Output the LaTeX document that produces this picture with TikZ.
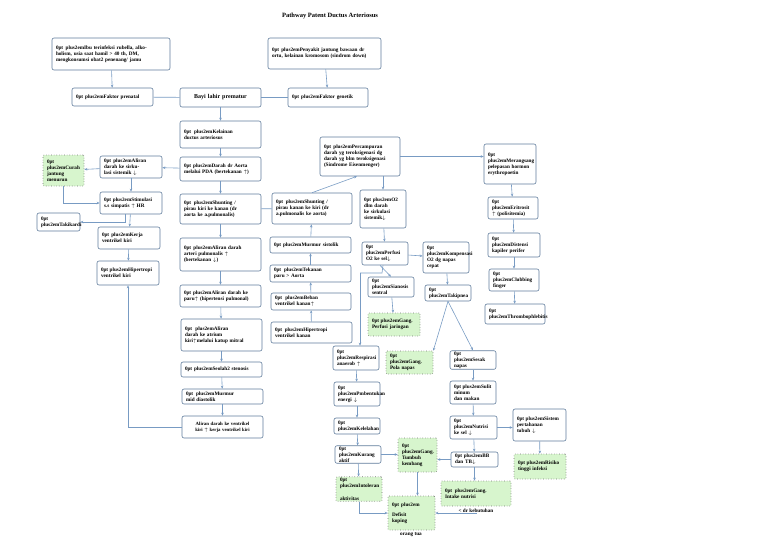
\documentclass[tikz,border=0pt]{standalone}
\usepackage{fontspec}
\setmainfont{Liberation Serif}
\usetikzlibrary{arrows.meta,calc}
\definecolor{ln}{RGB}{120,155,195}
\definecolor{gfill}{RGB}{215,245,205}
\tikzset{
 box/.style={draw=ln!80!black, line width=0.6pt, rounded corners=2pt, fill=white, align=center, inner sep=1pt, font=\fontsize{5.2}{6}\selectfont\bfseries\hyphenpenalty=10000\exhyphenpenalty=10000},
 gbox/.style={box, draw=black!55, dotted, fill=gfill, rounded corners=1pt},
 ar/.style={draw=ln, line width=0.6pt, -{Stealth[length=3pt,width=2.5pt]}},
 ln/.style={draw=ln, line width=0.6pt},
 lbl/.style={font=\fontsize{5.2}{6}\selectfont\bfseries, inner sep=0pt}
}
\newcommand\bx[7]{\node[#6, minimum width={(#4-#2)*1pt}, minimum height={(#5-#3)*1pt}, text width={(#4-#2-8)*1pt}] (#1) at ({(#2+#4)/2*1pt},{-(#3+#5)/2*1pt}) {#7};}
\newcommand\up{$\uparrow$}
\newcommand\dn{$\downarrow$}
\begin{document}
\begin{tikzpicture}[x=1pt,y=-1pt]
\useasboundingbox (0,0) rectangle (768,542);
\node[lbl, font=\fontsize{6.5}{7.5}\selectfont\bfseries] (title) at (330,16) {Pathway Patent Ductus Arteriosus};
\bx{ibu}{52}{38}{170}{70}{box}{Ibu terinfeksi rubella, alkoholism, usia saat hamil > 40 th, DM, mengkonsumsi obat2 penenang/ jamu}
\bx{peny}{268}{38}{381}{69}{box}{Penyakit jantung bawaan dr ortu, kelainan kromosom (sindrom down)}
\bx{fpre}{72}{88}{153}{106}{box}{Faktor prenatal}
\bx{bayi}{180}{88}{261}{107}{box,font=\fontsize{6}{7}\selectfont\bfseries}{Bayi lahir prematur}
\bx{fgen}{288}{88}{368}{107}{box}{Faktor genetik}
\bx{kel}{180}{121}{261}{148}{box}{Kelainan ductus arteriosus}
\bx{darah}{180}{157}{261}{181}{box}{Darah dr Aorta melalui PDA (bertekanan \up)}
\bx{alsis}{100}{156}{162}{178}{box}{Aliran darah ke sirkulasi sistemik \dn}
\bx{curah}{43}{155}{84}{186}{gbox}{Curah jantung menurun}
\bx{stim}{100}{192}{162}{214}{box}{Stimulasi s.s simpatis \up\ HR}
\bx{taki}{37}{213}{80}{231}{box}{Takikardi}
\bx{kerja}{98}{227}{160}{249}{box}{Kerja ventrikel kiri}
\bx{hipki}{97}{261}{159}{285}{box}{Hipertropi ventrikel kiri}
\bx{shki}{180}{194}{261}{224}{box}{Shunting / pirau kiri ke kanan (dr aorta ke a.pulmonalis)}
\bx{alart}{180}{238}{261}{271}{box}{Aliran darah arteri pulmonalis \up\\ (bertekanan \dn)}
\bx{alparu}{180}{285}{261}{307}{box}{Aliran darah ke paru\up\ (hipertensi pulmonal)}
\bx{alatr}{181}{319}{262}{351}{box}{Aliran darah ke atrium kiri\up melalui katup mitral}
\bx{sten}{181}{362}{262}{377}{box}{Seolah2 stenosis}
\bx{mmd}{182}{389}{263}{404}{box}{Murmur mid diastolik}
\bx{alven}{182}{416}{263}{438}{box,font=\fontsize{4.8}{6}\selectfont\bfseries}{Aliran darah ke ventrikel kiri \up\ kerja ventrikel kiri}
\bx{shka}{272}{193}{352}{224}{box}{Shunting / pirau kanan ke kiri (dr a.pulmonalis ke aorta)}
\bx{msis}{270}{237}{351}{253}{box}{Murmur sistolik}
\bx{tek}{270}{265}{351}{282}{box}{Tekanan paru > Aorta}
\bx{beban}{271}{293}{351}{310}{box}{Beban ventrikel kanan\up}
\bx{hipka}{271}{322}{352}{343}{box}{Hipertropi ventrikel kanan}
\bx{perc}{320}{137}{400}{176}{box}{Percampuran darah yg teroksigenasi dg darah yg blm teroksigenasi (Sindrome Eisenmenger)}
\bx{odlm}{360}{190}{406}{228}{box}{O2 dlm darah ke sirkulasi sistemik\dn}
\bx{perf}{362}{242}{408}{265}{box}{Perfusi O2 ke sel\dn}
\bx{komp}{423}{242}{469}{273}{box}{Kompensasi O2 dg napas cepat}
\bx{sian}{368}{277}{414}{297}{box}{Sianosis sentral}
\bx{takip}{425}{285}{471}{301}{box}{Takipnea}
\bx{gperf}{368}{313}{420}{336}{gbox}{Gang. Perfusi jaringan}
\bx{mera}{484}{144}{536}{184}{box}{Merangsang pelepasan hormon erythropoetin}
\bx{erit}{488}{197}{538}{219}{box}{Eritrosit \up\ (polisitemia)}
\bx{dist}{488}{233}{540}{257}{box}{Distensi kapiler perifer}
\bx{club}{489}{269}{539}{291}{box}{Clubbing finger}
\bx{thro}{485}{304}{545}{324}{box}{Thrombophlebitis}
\bx{resp}{333}{346}{379}{370}{box}{Respirasi anaerob \up}
\bx{gpola}{386}{351}{433}{374}{gbox}{Gang. Pola napas}
\bx{sesak}{450}{352}{496}{368}{box}{Sesak napas}
\bx{pemb}{334}{382}{380}{406}{box}{Pmbentukan energi \dn}
\bx{sulit}{450}{381}{496}{404}{box}{Sulit minum dan makan}
\bx{lelah}{334}{418}{380}{434}{box}{Kelelahan}
\bx{nutr}{450}{416}{497}{439}{box}{Nutrisi ke sel \dn}
\bx{sist}{513}{409}{566}{441}{box}{Sistem pertahanan tubuh \dn}
\bx{kur}{335}{447}{381}{462}{box}{Kurang aktif}
\bx{gtumb}{398}{438}{437}{472}{gbox}{Gang. Tumbuh kembang}
\bx{bb}{451}{452}{498}{467}{box}{BB dan TB\dn}
\bx{risk}{514}{454}{566}{479}{gbox}{Risiko tinggi infeksi}
\bx{intol}{336}{477}{382}{501}{gbox}{Intoleran\\[7pt] aktivitas}
\bx{gint}{441}{481}{511}{506}{gbox}{Gang. Intake nutrisi}
\node[lbl] (kebut) at (476,511) {< dr kebutuhan};
\bx{defk}{388}{496}{435}{530}{gbox}{\\[4pt]Defisit\\ koping}
\node[lbl] (ortu) at (411,535) {orang tua};
% connectors
\draw[ar] (ibu) -- (fpre);
\draw[ar] (peny) -- (fgen);
\draw[ln] (fpre) -- (bayi); \draw[ln] (bayi) -- (fgen);
\draw[ar] (bayi) -- (kel); \draw[ar] (kel) -- (darah);
\draw[ar] (darah) -- (alsis); \draw[ar] (alsis) -- (curah);
\draw[ar] (alsis) -- (stim);
\draw[ar] (curah.south) |- (stim.west);
\draw[ar] ([xshift=-6pt]stim.south) |- (taki.east);
\draw[ar] (stim) -- (kerja); \draw[ar] (kerja) -- (hipki);
\draw[ar] (darah) -- (shki); \draw[ar] (shki) -- (alart); \draw[ar] (alart) -- (alparu);
\draw[ar] (alparu) -- (alatr); \draw[ar] (alatr) -- (sten); \draw[ar] (sten) -- (mmd); \draw[ar] (mmd) -- (alven);
\draw[ar] (alven.west) -| (hipki.south);
\draw[ln] (shki) -- (shka);
\draw[ar] (hipka) -- (beban); \draw[ar] (beban) -- (tek); \draw[ar] (tek) -- (msis); \draw[ar] (msis) -- (shka);
\draw[ar] (shka.north) -- ([xshift=-3pt]perc.south);
\draw[ar] ([xshift=23pt]perc.south) -- (odlm);
\draw[ar] (perc.east) -- (perc.east -| mera.west);
\draw[ar] (odlm) -- (perf);
\draw[ar] (perf) -- (komp);
\draw[ar] ([xshift=-5pt]perf.south) -- (sian.north);
\coordinate (pbend) at (360,273);
\draw[ln] ([xshift=-2pt]perf.south) -- (382,273) -- (pbend);
\draw[ar] (pbend) -- (pbend |- resp.north);
\draw[ar] (sian) -- (gperf);
\draw[ar] (komp) -- (takip);
\draw[ar] (takip.south) -- (gpola.north east);
\draw[ar] (takip.south) -- (sesak.north);
\draw[ar] (mera) -- (erit); \draw[ar] (erit) -- (dist); \draw[ar] (dist) -- (club); \draw[ar] (club) -- (thro);
\draw[ar] (resp) -- (pemb); \draw[ar] (pemb) -- (lelah); \draw[ar] (lelah) -- (kur); \draw[ar] (kur) -- (intol);
\draw[ar] (kur) -- (kur -| gtumb.west);
\draw[ar] (sesak) -- (sulit); \draw[ar] (sulit) -- (nutr); \draw[ar] (nutr) -- (bb);
\draw[ar] (nutr) -- (nutr -| sist.west); \draw[ar] (sist) -- (risk);
\draw[ar] (bb) -- (bb -| gtumb.east);
\draw[ar] (bb) -- (bb |- gint.north);
\draw[ar] (gtumb) -- (gtumb |- defk.north);
\draw[ar] (intol.south) |- (defk.west);
\draw[ar] (kebut.south) |- (defk.east);
\end{tikzpicture}
\end{document}
